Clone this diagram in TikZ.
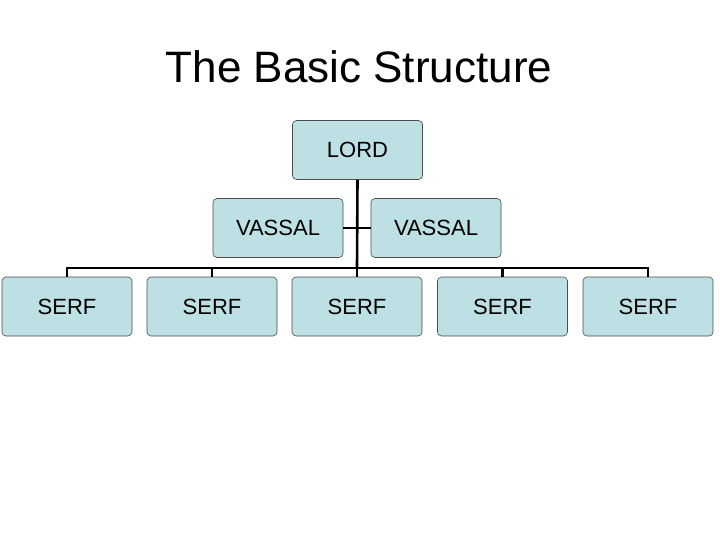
\documentclass[tikz,border=0pt]{standalone}
\usepackage{fontspec}
\setmainfont{Liberation Sans}
\definecolor{boxfill}{HTML}{BCE0E4}
\begin{document}
\begin{tikzpicture}[x=1pt,y=-1pt,
  box/.style={draw=black!70,fill=boxfill,rounded corners=4pt,minimum width=130pt,minimum height=59pt,inner sep=0pt,font=\fontsize{22}{26}\selectfont,line width=0.6pt},
  conn/.style={line width=2.6pt}]
\useasboundingbox (0,0) rectangle (720,540);
\node at (359,67) {\fontsize{44}{52}\selectfont The Basic Structure};
\node[box] (lord) at (357.5,150) {LORD};
\node[box] (v1) at (278,228) {VASSAL};
\node[box] (v2) at (436,228) {VASSAL};
\foreach \i/\x in {1/67,2/212,3/357,4/502.5,5/648}{
  \node[box] (s\i) at (\x,306.5) {SERF};}
\coordinate (bus) at (357,268);
\draw[conn] (v1.east) -- (v2.west);
\draw[conn] (lord.south) -- (bus);
\draw[conn] (s1.north) |- (bus) -| (s5.north);
\foreach \i in {2,3,4}{\draw[conn] (s\i.north) -- (s\i.north |- bus);}
\end{tikzpicture}
\end{document}
